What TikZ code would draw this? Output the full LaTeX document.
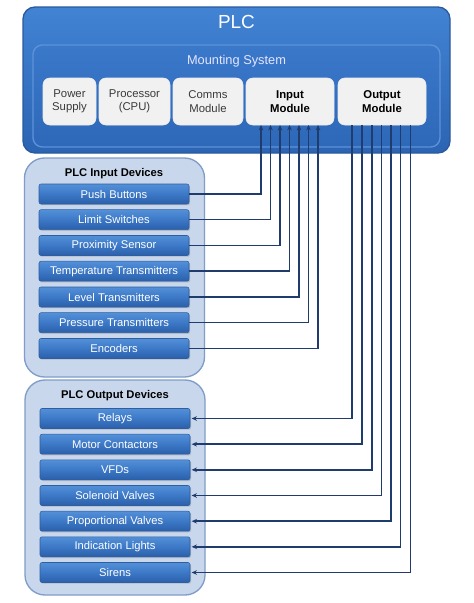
\documentclass[tikz,border=0pt]{standalone}
\usepackage{fontspec}
\setmainfont{Liberation Sans}
\usetikzlibrary{shadows,arrows.meta}
\newlength\pxu
\setlength\pxu{0.75pt}
\definecolor{plctop}{HTML}{4283D4}
\definecolor{plcbot}{HTML}{2B64B2}
\definecolor{plcedge}{HTML}{2A5A9C}
\definecolor{mnttop}{HTML}{3A78CA}
\definecolor{mntbot}{HTML}{2E68B8}
\definecolor{mntedge}{HTML}{5E92D8}
\definecolor{modfill}{HTML}{F1F1F1}
\definecolor{modtext}{HTML}{3A3A3A}
\definecolor{grpfill}{HTML}{C9D7EC}
\definecolor{grpedge}{HTML}{7F9DC8}
\definecolor{devtop}{HTML}{5390D8}
\definecolor{devmid}{HTML}{3C78C6}
\definecolor{devbot}{HTML}{2A5FAA}
\definecolor{devedge}{HTML}{2F5E9E}
\definecolor{wire}{HTML}{1F3C6C}
\begin{document}
\begin{tikzpicture}[x=0.75pt,y=-0.75pt]
\tikzset{
  plcouter/.style={draw=plcedge, line width=1pt, rounded corners=9pt,
    top color=plctop, bottom color=plcbot, inner sep=0pt,
    minimum width=427\pxu, minimum height=146\pxu},
  mount/.style={draw=mntedge, line width=1pt, rounded corners=7pt,
    top color=mnttop, bottom color=mntbot, inner sep=0pt,
    minimum width=407\pxu, minimum height=102\pxu},
  module/.style={fill=modfill, draw=white!85!gray, rounded corners=5pt, inner sep=0pt,
    minimum height=47\pxu, align=center, text=modtext,
    font=\fontsize{8.5}{10}\selectfont},
  boldmod/.style={module, text=black, font=\fontsize{8.5}{10}\selectfont\bfseries},
  group/.style={fill=grpfill, draw=grpedge, line width=1pt, rounded corners=15pt,
    inner sep=0pt, minimum width=180\pxu},
  grptitle/.style={font=\fontsize{8.4}{10}\selectfont\bfseries, text=black},
  device/.style={draw=devedge, line width=0.4pt, rounded corners=1.5pt,
    top color=devtop, bottom color=devbot, middle color=devmid, text=white, inner sep=0pt,
    minimum width=150\pxu, minimum height=20\pxu,
    font=\fontsize{8.4}{10}\selectfont,
    drop shadow={opacity=0.35, shadow xshift=0.8pt, shadow yshift=-0.9pt}},
  wireline/.style={draw=wire, line width=1.1pt},
  wirearrow/.style={wireline, -{Stealth[length=4pt,width=3.4pt]}},
}
\useasboundingbox (0,0) rectangle (474,603);
\fill[white] (0,0) rectangle (474,603);

% PLC frame
\node[plcouter] (plc) at (236.5,80) {};
\node[text=white, font=\fontsize{14.2}{16}\selectfont] (plct) at (236.5,22) {PLC};
\node[mount] (mnt) at (236.5,96) {};
\node[text=white!90!blue, font=\fontsize{9.6}{11}\selectfont] (mntt) at (236.5,61) {Mounting System};

% modules
\node[module, minimum width=53\pxu] (ps) at (69.5,101.5) {Power\\Supply};
\node[module, minimum width=71\pxu] (cpu) at (134.5,101.5) {Processor\\(CPU)};
\node[module, minimum width=70\pxu] (com) at (208,101.5) {Comms\\Module};
\node[boldmod, minimum width=88\pxu] (inmod) at (290,101.5) {Input\\Module};
\node[boldmod, minimum width=88\pxu] (outmod) at (382,101.5) {Output\\Module};

% groups
\node[group, minimum height=219\pxu] (ingrp) at (114.5,267.5) {};
\node[grptitle] (ingt) at (114,174) {PLC Input Devices};
\node[group, minimum height=215\pxu] (outgrp) at (115,487.5) {};
\node[grptitle] (outgt) at (115,396) {PLC Output Devices};

% input devices
\node[device] (in1) at (114,194) {Push Buttons};
\node[device] (in2) at (114,219.7) {Limit Switches};
\node[device] (in3) at (114,245.5) {Proximity Sensor};
\node[device] (in4) at (114,271.2) {Temperature Transmitters};
\node[device] (in5) at (114,297) {Level Transmitters};
\node[device] (in6) at (114,322.7) {Pressure Transmitters};
\node[device] (in7) at (114,348.5) {Encoders};

% output devices
\node[device] (out1) at (115,418.5) {Relays};
\node[device] (out2) at (115,444.2) {Motor Contactors};
\node[device] (out3) at (115,469.8) {VFDs};
\node[device] (out4) at (115,495.5) {Solenoid Valves};
\node[device] (out5) at (115,521.2) {Proportional Valves};
\node[device] (out6) at (115,546.8) {Indication Lights};
\node[device] (out7) at (115,572.5) {Sirens};

% attachment points on module bottoms
\coordinate (ip1) at (261,125);
\coordinate (ip2) at (270.5,125);
\coordinate (ip3) at (280,125);
\coordinate (ip4) at (289.5,125);
\coordinate (ip5) at (299,125);
\coordinate (ip6) at (308.5,125);
\coordinate (ip7) at (318,125);
\coordinate (op1) at (352,125);
\coordinate (op2) at (362,125);
\coordinate (op3) at (372,125);
\coordinate (op4) at (381.5,125);
\coordinate (op5) at (391,125);
\coordinate (op6) at (400.5,125);
\coordinate (op7) at (410.5,125);

% input wires
\foreach \i in {1,...,7}{
  \draw[wirearrow] (in\i.east) -| (ip\i);
}
% output wires
\foreach \i in {1,...,7}{
  \draw[wirearrow] (op\i) |- ([xshift=1pt]out\i.east);
}
\end{tikzpicture}
\end{document}
